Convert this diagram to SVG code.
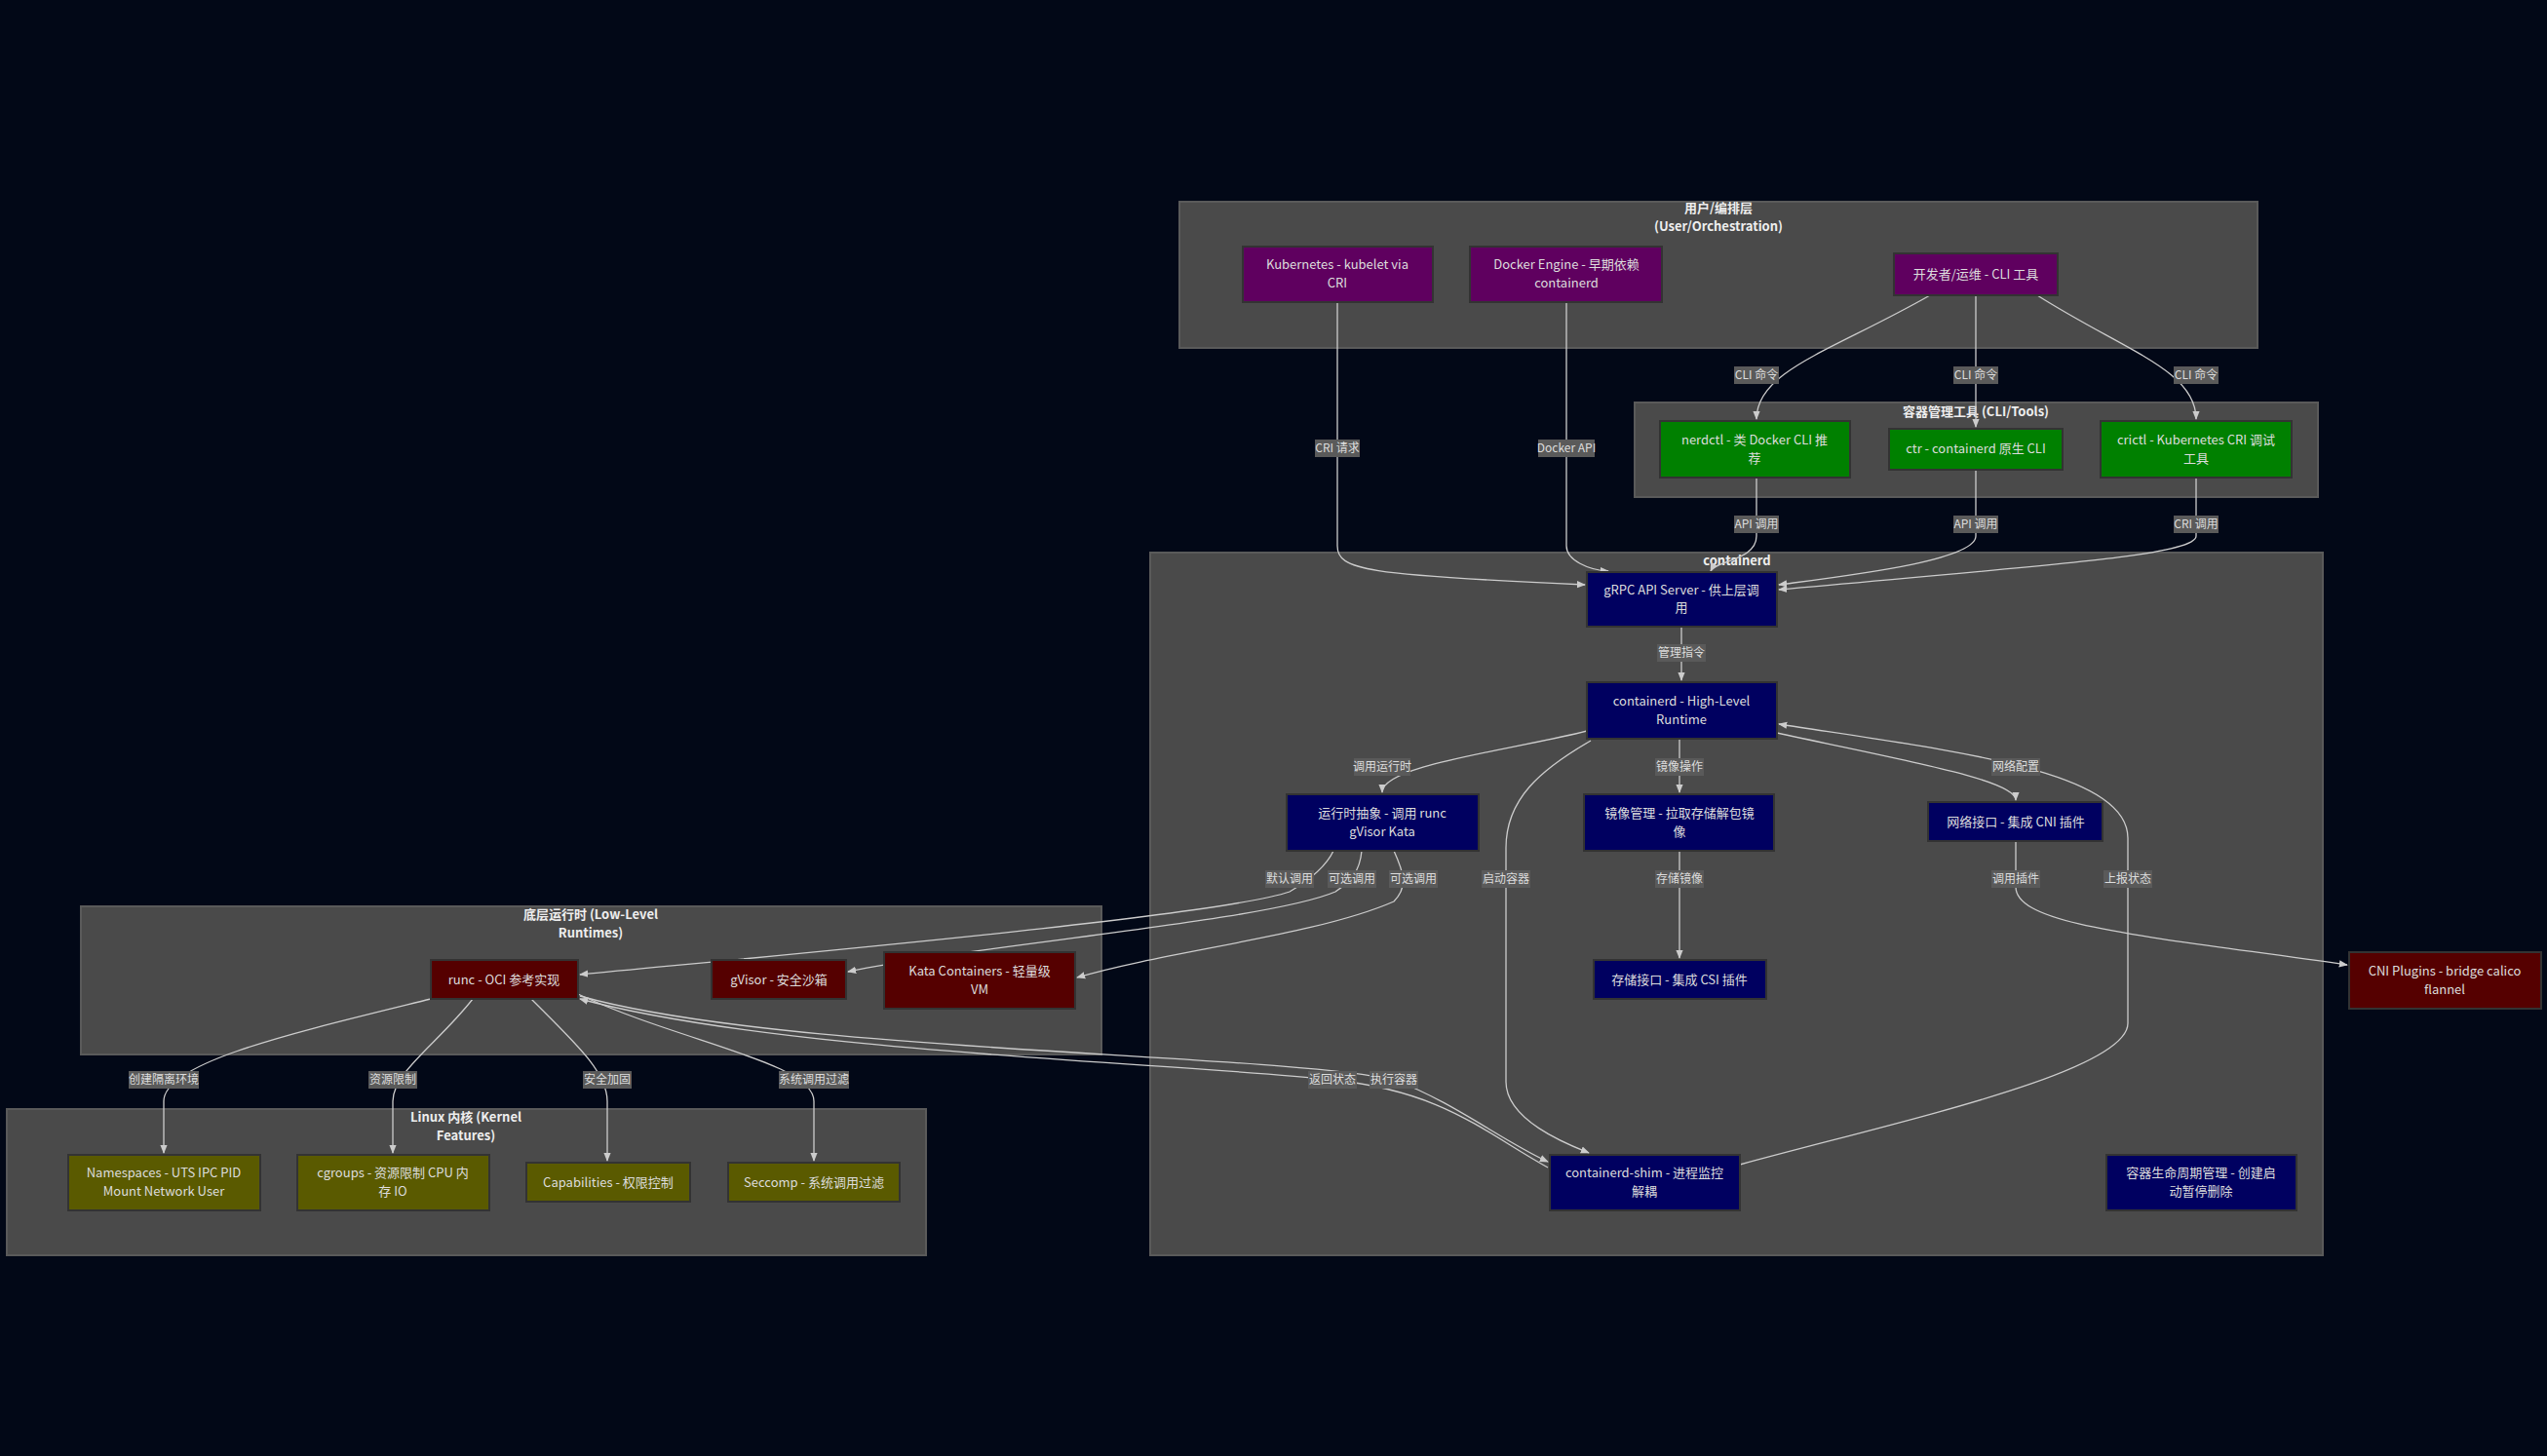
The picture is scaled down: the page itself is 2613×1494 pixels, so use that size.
<svg xmlns="http://www.w3.org/2000/svg" width="2613" height="1494" viewBox="0 0 2613 1494">
<style>
text{font-family:"Noto Sans CJK SC","Liberation Sans",sans-serif;}
.cl{fill:#4a4a4a;stroke:#5a5a5a;stroke-width:2}
.ct{fill:#eee;font-size:13px;font-weight:bold;text-anchor:middle}
.n rect{stroke:#333;stroke-width:2}
.n text{fill:#ddd;font-size:13px;text-anchor:middle}
.u{fill:#5f005f}.g{fill:#008000}.b{fill:#000060}.r{fill:#550000}.o{fill:#5a5a00}
.e path{fill:none;stroke:#ccc;stroke-width:1.3;marker-end:url(#a)}
.lb rect{fill:#5a5a5a}
.lb text{fill:#ddd;font-size:12px;text-anchor:middle}
</style>
<defs><marker id="a" viewBox="0 0 10 10" refX="9" refY="5" markerWidth="7" markerHeight="7" orient="auto"><path d="M0,1L10,5L0,9z" fill="#ccc"/></marker></defs>
<rect width="2613" height="1494" fill="#020817"/>
<g id="clusters">
<rect class="cl" x="1210" y="207" width="1106" height="150"/><text class="ct" x="1763" y="218">用户/编排层</text><text class="ct" x="1763" y="237">(User/Orchestration)</text>
<rect class="cl" x="1677" y="413" width="701" height="97"/><text class="ct" x="2027" y="427">容器管理工具 (CLI/Tools)</text>
<rect class="cl" x="1180" y="567" width="1203" height="721"/><text class="ct" x="1782" y="580">containerd</text>
<rect class="cl" x="83" y="930" width="1047" height="152"/><text class="ct" x="606" y="943">底层运行时 (Low-Level</text><text class="ct" x="606" y="962">Runtimes)</text>
<rect class="cl" x="7" y="1138" width="943" height="150"/><text class="ct" x="478" y="1151">Linux 内核 (Kernel</text><text class="ct" x="478" y="1170">Features)</text>
</g>
<g id="connectors" class="e">
<path d="M1372,310 V560 C1372,585 1400,590 1626,600"/>
<path d="M1607,310 V560 C1607,575 1630,585 1650,586"/>
<path d="M1980,303 C1880,360 1802,380 1802,430"/>
<path d="M2027,303 V438"/>
<path d="M2090,303 C2180,360 2253,380 2253,430"/>
<path d="M1802,490 V550 C1802,575 1760,575 1755,586"/>
<path d="M2027,482 V550 C2027,575 1900,590 1825,600"/>
<path d="M2253,490 V550 C2253,570 2100,580 1825,605"/>
<path d="M1725,643 V698"/>
<path d="M1628,750 C1550,770 1418,785 1418,813"/>
<path d="M1723,758 V813"/>
<path d="M1823,752 C1950,780 2068,800 2068,821"/>
<path d="M1632,760 C1580,790 1545,820 1545,870 V1110 C1545,1150 1610,1175 1630,1183"/>
<path d="M1785,1195 C1950,1150 2183,1100 2183,1050 V860 C2183,790 2000,770 1825,743"/>
<path d="M1368,873 C1360,890 1340,905 1323,915 C1250,940 800,980 595,1000"/>
<path d="M1397,873 C1395,895 1385,905 1370,915 C1300,945 1000,970 870,997"/>
<path d="M1430,873 C1440,895 1445,910 1430,925 C1350,960 1200,975 1105,1003"/>
<path d="M1723,873 V983"/>
<path d="M2068,863 V910 C2068,950 2200,960 2408,990"/>
<path d="M595,1022 C800,1080 1300,1080 1430,1108 C1490,1130 1540,1170 1588,1192"/>
<path d="M1588,1198 C1520,1160 1480,1120 1367,1108 C1200,1090 800,1080 595,1025"/>
<path d="M442,1025 C300,1060 168,1090 168,1130 V1183"/>
<path d="M485,1025 C450,1070 403,1100 403,1130 V1183"/>
<path d="M545,1025 C590,1070 623,1100 623,1130 V1191"/>
<path d="M593,1020 C700,1070 835,1090 835,1130 V1191"/>
</g>
<g id="labels" class="lb">
<rect x="1349" y="451" width="46" height="18"/><text x="1372" y="464">CRI 请求</text>
<rect x="1578" y="451" width="58" height="18"/><text x="1607" y="464">Docker API</text>
<rect x="1779" y="376" width="46" height="18"/><text x="1802" y="389">CLI 命令</text>
<rect x="2004" y="376" width="46" height="18"/><text x="2027" y="389">CLI 命令</text>
<rect x="2230" y="376" width="46" height="18"/><text x="2253" y="389">CLI 命令</text>
<rect x="1779" y="529" width="46" height="18"/><text x="1802" y="542">API 调用</text>
<rect x="2004" y="529" width="46" height="18"/><text x="2027" y="542">API 调用</text>
<rect x="2230" y="529" width="46" height="18"/><text x="2253" y="542">CRI 调用</text>
<rect x="1700" y="661" width="50" height="18"/><text x="1725" y="674">管理指令</text>
<rect x="1389" y="778" width="58" height="18"/><text x="1418" y="791">调用运行时</text>
<rect x="1698" y="778" width="50" height="18"/><text x="1723" y="791">镜像操作</text>
<rect x="2043" y="778" width="50" height="18"/><text x="2068" y="791">网络配置</text>
<rect x="1298" y="893" width="50" height="18"/><text x="1323" y="906">默认调用</text>
<rect x="1362" y="893" width="50" height="18"/><text x="1387" y="906">可选调用</text>
<rect x="1425" y="893" width="50" height="18"/><text x="1450" y="906">可选调用</text>
<rect x="1520" y="893" width="50" height="18"/><text x="1545" y="906">启动容器</text>
<rect x="1698" y="893" width="50" height="18"/><text x="1723" y="906">存储镜像</text>
<rect x="2043" y="893" width="50" height="18"/><text x="2068" y="906">调用插件</text>
<rect x="2158" y="893" width="50" height="18"/><text x="2183" y="906">上报状态</text>
<rect x="1342" y="1099" width="50" height="18"/><text x="1367" y="1112">返回状态</text>
<rect x="1405" y="1099" width="50" height="18"/><text x="1430" y="1112">执行容器</text>
<rect x="132" y="1099" width="72" height="18"/><text x="168" y="1112">创建隔离环境</text>
<rect x="378" y="1099" width="50" height="18"/><text x="403" y="1112">资源限制</text>
<rect x="598" y="1099" width="50" height="18"/><text x="623" y="1112">安全加固</text>
<rect x="799" y="1099" width="72" height="18"/><text x="835" y="1112">系统调用过滤</text>
</g>
<g id="kubelet" class="n"><rect class="u" x="1275" y="253" width="195" height="57"/><text x="1372" y="276">Kubernetes - kubelet via</text><text x="1372" y="295">CRI</text></g>
<g id="docker" class="n"><rect class="u" x="1508" y="253" width="197" height="57"/><text x="1607" y="276">Docker Engine - 早期依赖</text><text x="1607" y="295">containerd</text></g>
<g id="dev" class="n"><rect class="u" x="1943" y="260" width="168" height="43"/><text x="2027" y="286">开发者/运维 - CLI 工具</text></g>
<g id="nerdctl" class="n"><rect class="g" x="1703" y="432" width="195" height="58"/><text x="1800" y="456">nerdctl - 类 Docker CLI 推</text><text x="1800" y="475">荐</text></g>
<g id="ctr" class="n"><rect class="g" x="1938" y="440" width="178" height="42"/><text x="2027" y="465">ctr - containerd 原生 CLI</text></g>
<g id="crictl" class="n"><rect class="g" x="2155" y="432" width="196" height="58"/><text x="2253" y="456">crictl - Kubernetes CRI 调试</text><text x="2253" y="475">工具</text></g>
<g id="grpc" class="n"><rect class="b" x="1628" y="587" width="195" height="56"/><text x="1725" y="610">gRPC API Server - 供上层调</text><text x="1725" y="628">用</text></g>
<g id="hl" class="n"><rect class="b" x="1628" y="700" width="195" height="58"/><text x="1725" y="724">containerd - High-Level</text><text x="1725" y="743">Runtime</text></g>
<g id="rtabs" class="n"><rect class="b" x="1320" y="815" width="197" height="58"/><text x="1418" y="839">运行时抽象 - 调用 runc</text><text x="1418" y="858">gVisor Kata</text></g>
<g id="image" class="n"><rect class="b" x="1625" y="815" width="195" height="58"/><text x="1723" y="839">镜像管理 - 拉取存储解包镜</text><text x="1723" y="858">像</text></g>
<g id="net" class="n"><rect class="b" x="1978" y="823" width="179" height="40"/><text x="2068" y="848">网络接口 - 集成 CNI 插件</text></g>
<g id="storage" class="n"><rect class="b" x="1635" y="985" width="177" height="40"/><text x="1723" y="1010">存储接口 - 集成 CSI 插件</text></g>
<g id="shim" class="n"><rect class="b" x="1590" y="1185" width="195" height="57"/><text x="1687" y="1208">containerd-shim - 进程监控</text><text x="1687" y="1227">解耦</text></g>
<g id="lifecycle" class="n"><rect class="b" x="2161" y="1185" width="195" height="57"/><text x="2258" y="1208">容器生命周期管理 - 创建启</text><text x="2258" y="1227">动暂停删除</text></g>
<g id="cni" class="n"><rect class="r" x="2410" y="977" width="197" height="58"/><text x="2508" y="1001">CNI Plugins - bridge calico</text><text x="2508" y="1020">flannel</text></g>
<g id="runc" class="n"><rect class="r" x="442" y="985" width="151" height="40"/><text x="517" y="1010">runc - OCI 参考实现</text></g>
<g id="gvisor" class="n"><rect class="r" x="730" y="985" width="138" height="40"/><text x="799" y="1010">gVisor - 安全沙箱</text></g>
<g id="kata" class="n"><rect class="r" x="907" y="977" width="196" height="58"/><text x="1005" y="1001">Kata Containers - 轻量级</text><text x="1005" y="1020">VM</text></g>
<g id="ns" class="n"><rect class="o" x="70" y="1185" width="197" height="57"/><text x="168" y="1208">Namespaces - UTS IPC PID</text><text x="168" y="1227">Mount Network User</text></g>
<g id="cgroups" class="n"><rect class="o" x="305" y="1185" width="197" height="57"/><text x="403" y="1208">cgroups - 资源限制 CPU 内</text><text x="403" y="1227">存 IO</text></g>
<g id="caps" class="n"><rect class="o" x="540" y="1193" width="168" height="40"/><text x="624" y="1218">Capabilities - 权限控制</text></g>
<g id="seccomp" class="n"><rect class="o" x="747" y="1193" width="176" height="40"/><text x="835" y="1218">Seccomp - 系统调用过滤</text></g>
</svg>
